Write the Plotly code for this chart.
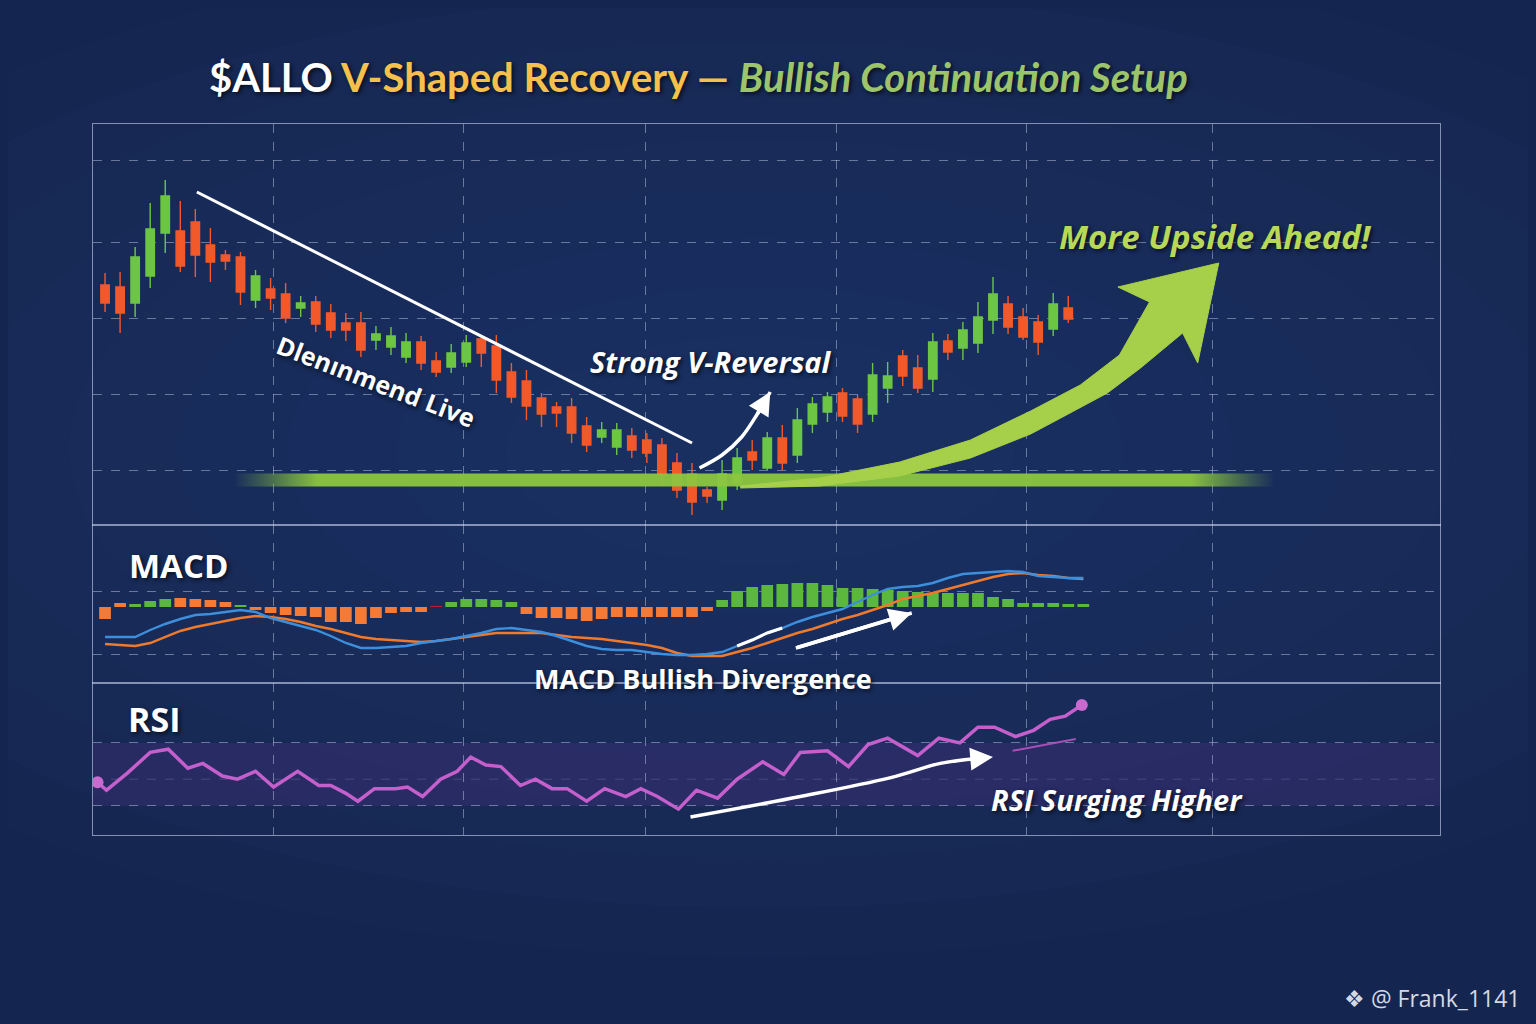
import plotly.graph_objects as go
from plotly.subplots import make_subplots

# ---- price candles (one per session) ----
opens = [3.15, 3.13, 2.97, 3.24, 3.67, 3.69, 3.78, 3.55, 3.45, 3.43,
         3.00, 3.11, 3.06, 2.92, 2.98, 2.87, 2.77, 2.77, 2.60, 2.53,
         2.43, 2.58, 2.39, 2.33, 2.38, 2.61, 2.54, 2.28, 2.19, 2.02,
         1.93, 1.93, 1.74, 1.63, 1.53, 1.64, 1.60, 1.55, 1.37, 1.26,
         1.10, 1.00, 1.17, 1.48, 1.32, 1.62, 1.45, 1.76, 1.88, 2.07,
         2.01, 1.86, 2.12, 2.44, 2.32, 2.21, 2.59, 2.52, 2.57, 2.80,
         2.96, 2.83, 2.78, 2.71, 2.92]
highs = [3.27, 3.28, 3.53, 3.97, 4.20, 3.99, 3.91, 3.72, 3.50, 3.48,
         3.30, 3.22, 3.17, 3.04, 3.04, 2.96, 2.87, 2.88, 2.74, 2.73,
         2.67, 2.64, 2.48, 2.56, 2.65, 2.63, 2.65, 2.37, 2.30, 2.07,
         1.98, 2.02, 1.83, 1.78, 1.77, 1.72, 1.67, 1.62, 1.47, 1.37,
         1.13, 1.40, 1.52, 1.60, 1.68, 1.75, 1.92, 2.03, 2.08, 2.12,
         2.05, 2.37, 2.38, 2.50, 2.45, 2.67, 2.66, 2.78, 2.98, 3.23,
         3.04, 2.92, 2.85, 3.07, 3.04]
lows = [2.88, 2.67, 2.83, 3.12, 3.47, 3.28, 3.23, 3.18, 3.30, 2.95,
        2.92, 2.90, 2.77, 2.83, 2.68, 2.62, 2.59, 2.43, 2.50, 2.45,
        2.37, 2.30, 2.23, 2.27, 2.33, 2.33, 2.07, 1.97, 1.80, 1.73,
        1.73, 1.57, 1.48, 1.57, 1.45, 1.42, 1.37, 1.15, 1.02, 0.85,
        0.97, 0.90, 1.10, 1.30, 1.30, 1.30, 1.37, 1.67, 1.78, 1.78,
        1.67, 1.78, 1.97, 2.14, 2.07, 2.08, 2.40, 2.40, 2.47, 2.66,
        2.66, 2.60, 2.45, 2.64, 2.77]
closes = [2.97, 2.87, 3.43, 3.71, 4.04, 3.34, 3.45, 3.38, 3.39, 3.08,
          3.24, 3.02, 2.82, 2.97, 2.76, 2.70, 2.70, 2.50, 2.66, 2.64,
          2.58, 2.37, 2.28, 2.47, 2.57, 2.47, 2.20, 2.03, 1.94, 1.86,
          1.87, 1.67, 1.55, 1.70, 1.70, 1.50, 1.47, 1.25, 1.10, 0.98,
          1.04, 1.26, 1.42, 1.40, 1.62, 1.37, 1.80, 1.96, 2.03, 1.84,
          1.76, 2.25, 2.24, 2.24, 2.12, 2.58, 2.48, 2.70, 2.83, 3.06,
          2.73, 2.63, 2.58, 2.96, 2.81]
sessions = list(range(len(opens)))

# ---- MACD panel (66 bars) ----
macd_hist = [-0.12, 0.04, 0.03, 0.06, 0.08, 0.09, 0.08, 0.07, 0.05, 0.02,
             -0.03, -0.06, -0.08, -0.09, -0.10, -0.15, -0.15, -0.17, -0.11, -0.06,
             -0.05, -0.05, 0.01, 0.05, 0.08, 0.08, 0.07, 0.05, -0.07, -0.11,
             -0.11, -0.12, -0.14, -0.12, -0.10, -0.10, -0.10, -0.10, -0.10, -0.10,
             -0.04, 0.07, 0.16, 0.20, 0.22, 0.23, 0.24, 0.24, 0.22, 0.19,
             0.19, 0.18, 0.17, 0.16, 0.15, 0.14, 0.14, 0.14, 0.14, 0.10,
             0.08, 0.04, 0.04, 0.04, 0.03, 0.03]
hist_tone = list("OOGGGOOOOG" + "OOOOOOOOOOOO" + "RGGGGG" + "OOOOOOOOOOOOO" + "G" * 25)
macd_line = [-0.30, -0.30, -0.30, -0.23, -0.17, -0.12, -0.08, -0.07, -0.05, -0.03,
             -0.05, -0.11, -0.15, -0.19, -0.23, -0.29, -0.36, -0.41, -0.41, -0.40,
             -0.39, -0.36, -0.34, -0.32, -0.29, -0.26, -0.22, -0.21, -0.23, -0.25,
             -0.29, -0.34, -0.39, -0.42, -0.43, -0.43, -0.45, -0.47, -0.48, -0.48,
             -0.47, -0.45, -0.39, -0.33, -0.26, -0.21, -0.15, -0.10, -0.06, -0.02,
             0.05, 0.12, 0.18, 0.20, 0.21, 0.24, 0.29, 0.33, 0.34, 0.35,
             0.36, 0.35, 0.31, 0.30, 0.29, 0.29]
signal_line = [-0.37, -0.38, -0.39, -0.36, -0.30, -0.24, -0.20, -0.17, -0.14, -0.11,
               -0.09, -0.10, -0.12, -0.15, -0.19, -0.22, -0.26, -0.30, -0.32, -0.33,
               -0.34, -0.35, -0.34, -0.32, -0.30, -0.28, -0.26, -0.26, -0.26, -0.26,
               -0.28, -0.30, -0.31, -0.32, -0.34, -0.36, -0.38, -0.41, -0.46, -0.49,
               -0.49, -0.49, -0.45, -0.41, -0.36, -0.31, -0.26, -0.22, -0.17, -0.12,
               -0.08, -0.03, 0.02, 0.08, 0.11, 0.14, 0.18, 0.22, 0.26, 0.30,
               0.33, 0.34, 0.32, 0.31, 0.29, 0.28]
macd_x = list(range(len(macd_hist)))

# ---- RSI panel (zigzag vertices) ----
rsi_x = [-0.5, 0.1, 1.5, 3.0, 4.2, 5.5, 6.5, 7.8, 8.8, 10.0,
         11.2, 12.8, 14.2, 15.0, 16.0, 16.8, 17.9, 19.3, 20.1, 21.1,
         22.3, 23.4, 24.3, 25.3, 26.3, 27.6, 28.6, 29.7, 30.7, 32.0,
         33.2, 34.6, 35.6, 36.7, 38.1, 39.3, 40.7, 42.0, 43.7, 45.1,
         46.2, 48.0, 49.4, 50.7, 52.0, 54.0, 55.4, 56.8, 58.0, 59.1,
         60.5, 61.7, 62.8, 63.8, 64.9]
rsi_y = [45, 40, 51, 64, 66, 54, 57, 49, 47, 52,
         42, 52, 43, 43, 38, 33, 41, 41, 42, 36,
         47, 52, 61, 56, 55, 43, 47, 41, 41, 33,
         41, 36, 41, 36, 28, 40, 35, 47, 58, 50,
         64, 65, 55, 69, 73, 62, 73, 70, 80, 80,
         74, 78, 85, 87, 94]

# drawn overlays (chart units)
downtrend_x = [6.1, 39.0]
downtrend_y = [4.08, 1.57]
support_level = 1.20
support_x = [8.6, 77.7]
reversal_x = [39.5, 41.0, 42.3, 43.3, 44.2]
reversal_y = [1.32, 1.45, 1.63, 1.85, 2.08]
upside_x = [42.2, 47.5, 52.8, 57.5, 61.5, 64.8, 67.4, 69.4, 67.3, 74.0, 72.6, 71.6,
            68.8, 66.6, 63.5, 61.5, 57.5, 52.8, 47.5, 42.2]
upside_y = [1.14, 1.22, 1.38, 1.60, 1.89, 2.15, 2.45, 2.98, 3.13, 3.37, 2.37, 2.67,
            2.32, 2.07, 1.82, 1.66, 1.42, 1.24, 1.14, 1.12]
macd_arrow_x = [45.9, 53.6]
macd_arrow_y = [-0.41, -0.06]
rsi_arrow_x = [38.9, 46.2, 52.2, 55.5, 57.8, 59.0]
rsi_arrow_y = [23, 36, 48, 57, 60, 61]
rsi_trend_x = [60.3, 64.5]
rsi_trend_y = [65, 72.5]

RED = "#f2592a"
GREEN = "#6cc644"
BAND = "140,198,63"
BG = "#14264f"
tone_map = {"O": "#f47a36", "G": "#5cb83c", "R": "#b8203a"}

# the page puts the figure 8px in from the top-left corner
OFF = 8
W, H = 1536 - OFF, 1024 - OFF
L, R, T, B = 93, 1440, 124, 835   # plot area in screen pixels


def px(x):
    return (x - L) / (R - L)


def py(y):
    return (B - y) / (B - T)


fig = make_subplots(rows=3, cols=1, shared_xaxes=True, vertical_spacing=0,
                    row_heights=[401, 158, 152])

# support band with faded ends
fig.add_trace(go.Scatter(
    x=[support_x[0], support_x[1], support_x[1], support_x[0], support_x[0]],
    y=[support_level - 0.065, support_level - 0.065, support_level + 0.065,
       support_level + 0.065, support_level - 0.065],
    mode="lines", line=dict(width=0), fill="toself",
    fillgradient=dict(type="horizontal", colorscale=[
        [0, f"rgba({BAND},0)"], [0.08, f"rgba({BAND},0.95)"],
        [0.92, f"rgba({BAND},0.95)"], [1, f"rgba({BAND},0)"]]),
    hoverinfo="skip", showlegend=False), row=1, col=1)

fig.add_trace(go.Candlestick(
    x=sessions, open=opens, high=highs, low=lows, close=closes,
    increasing=dict(line=dict(color=GREEN, width=1.4), fillcolor=GREEN),
    decreasing=dict(line=dict(color=RED, width=1.4), fillcolor=RED),
    whiskerwidth=0, showlegend=False), row=1, col=1)

fig.add_trace(go.Scatter(x=downtrend_x, y=downtrend_y, mode="lines",
                         line=dict(color="white", width=3), showlegend=False),
              row=1, col=1)
fig.add_trace(go.Scatter(x=reversal_x, y=reversal_y, mode="lines",
                         line=dict(color="white", width=3.5, shape="spline"),
                         showlegend=False), row=1, col=1)
fig.add_trace(go.Scatter(x=upside_x, y=upside_y, mode="lines", fill="toself",
                         fillcolor="#a6cf4a", line=dict(color="#a6cf4a", width=1),
                         showlegend=False), row=1, col=1)

# MACD
fig.add_trace(go.Bar(x=macd_x, y=macd_hist, width=0.78,
                     marker=dict(color=[tone_map[t] for t in hist_tone], line=dict(width=0)),
                     showlegend=False), row=2, col=1)
fig.add_trace(go.Scatter(x=macd_x, y=signal_line, mode="lines",
                         line=dict(color="#f07a2c", width=2.4), showlegend=False),
              row=2, col=1)
fig.add_trace(go.Scatter(x=macd_x, y=macd_line, mode="lines",
                         line=dict(color="#3d8fdc", width=2.4), showlegend=False),
              row=2, col=1)
fig.add_trace(go.Scatter(x=macd_x[42:46], y=macd_line[42:46], mode="lines",
                         line=dict(color="white", width=3), showlegend=False),
              row=2, col=1)
fig.add_trace(go.Scatter(x=macd_arrow_x, y=macd_arrow_y, mode="lines",
                         line=dict(color="white", width=3.5), showlegend=False),
              row=2, col=1)

# RSI
fig.add_trace(go.Scatter(x=rsi_trend_x, y=rsi_trend_y, mode="lines",
                         line=dict(color="rgba(200,90,205,0.8)", width=2),
                         showlegend=False), row=3, col=1)
fig.add_trace(go.Scatter(x=rsi_x, y=rsi_y, mode="lines",
                         line=dict(color="#c45fcb", width=3.5), showlegend=False),
              row=3, col=1)
fig.add_trace(go.Scatter(x=[rsi_x[0], rsi_x[-1]], y=[rsi_y[0], rsi_y[-1]], mode="markers",
                         marker=dict(color="#c96ad0", size=12), showlegend=False),
              row=3, col=1)
fig.add_trace(go.Scatter(x=rsi_arrow_x[:-1], y=rsi_arrow_y[:-1], mode="lines",
                         line=dict(color="white", width=3.5, shape="spline"),
                         showlegend=False), row=3, col=1)

grid = "rgba(205,215,240,0.45)"
frame = "rgba(205,215,240,0.6)"
xticks = [11.2, 23.8, 35.9, 48.6, 61.2, 73.6]
for r in (1, 2, 3):
    fig.update_xaxes(range=[-0.8, 88.7], tickvals=xticks, showticklabels=False,
                     showgrid=True, gridcolor=grid, griddash="dash", gridwidth=1,
                     showline=True, linecolor=frame, mirror=True, zeroline=False,
                     rangeslider_visible=False, row=r, col=1)
fig.update_yaxes(range=[0.75, 4.76], tickvals=[1.30, 2.06, 2.82, 3.58, 4.40], row=1, col=1)
fig.update_yaxes(range=[-0.76, 0.82], tickvals=[-0.47, 0.16], row=2, col=1)
fig.update_yaxes(range=[11.6, 108], tickvals=[30, 70], row=3, col=1)
fig.update_yaxes(showticklabels=False, showgrid=True, gridcolor=grid, griddash="dash",
                 gridwidth=1, showline=True, linecolor=frame, mirror=True, zeroline=False)

# soft vignette + RSI band
shapes = []
for k in range(9):
    grow = 0.62 - k * 0.06
    shapes.append(dict(type="circle", xref="paper", yref="paper", layer="below",
                       x0=px(760) - grow * 1.35, x1=px(760) + grow * 1.35,
                       y0=py(450) - grow * 1.15, y1=py(450) + grow * 1.15,
                       fillcolor="rgba(45,78,140,0.045)", line=dict(width=0)))
shapes.append(dict(type="rect", xref="x3 domain", yref="y3", layer="below",
                   x0=0, x1=1, y0=30, y1=70, fillcolor="rgba(110,55,160,0.2)",
                   line=dict(width=0)))
shapes.append(dict(type="line", xref="x3 domain", yref="y3", layer="below",
                   x0=0, x1=1, y0=47, y1=47,
                   line=dict(color="rgba(205,215,240,0.18)", width=1, dash="dash")))

shadow = "2px 2px 4px rgba(0,0,0,0.65)"


def label(x, y, text, size, color="white", italic=False, angle=0, family="Open Sans"):
    return dict(x=px(x), y=py(y), xref="paper", yref="paper", text=text,
                showarrow=False, textangle=angle, xanchor="center", yanchor="middle",
                font=dict(family=family, size=size, color=color, weight="bold",
                          style="italic" if italic else "normal", shadow=shadow))


annotations = [
    dict(x=px(698), y=py(77), xref="paper", yref="paper", showarrow=False,
         xanchor="center", yanchor="middle",
         text="$ALLO <span style='color:#f5c04c'>V-Shaped Recovery —</span> "
              "<span style='color:#9cc46a'><i>Bullish Continuation Setup</i></span>",
         font=dict(family="Lato", size=40, color="white",
                   weight="bold", shadow=shadow)),
    label(376, 381, "Dlenınmend Live", 25, angle=21),
    label(711, 361, "Strong V-Reversal", 29, italic=True),
    label(1215, 236, "More Upside Ahead!", 33, color="#b8d957", italic=True),
    label(178, 565, "MACD", 33),
    label(703, 678, "MACD Bullish Divergence", 27),
    label(154, 719, "RSI", 34),
    label(1117, 799, "RSI Surging Higher", 29, italic=True),
    dict(x=px(1432), y=py(998), xref="paper", yref="paper", showarrow=False,
         xanchor="center", yanchor="middle", text="❖ @ Frank_1141",
         font=dict(family="Open Sans", size=23, color="#d3d9e4")),
    # arrow heads
    dict(x=reversal_x[-1], y=reversal_y[-1], ax=reversal_x[-2], ay=reversal_y[-2],
         xref="x", yref="y", axref="x", ayref="y", text="", showarrow=True,
         arrowhead=2, arrowsize=1.3, arrowwidth=3.5, arrowcolor="white"),
    dict(x=macd_arrow_x[-1], y=macd_arrow_y[-1], ax=macd_arrow_x[0], ay=macd_arrow_y[0],
         xref="x2", yref="y2", axref="x2", ayref="y2", text="", showarrow=True,
         arrowhead=2, arrowsize=1.3, arrowwidth=3.5, arrowcolor="white"),
    dict(x=rsi_arrow_x[-1], y=rsi_arrow_y[-1], ax=rsi_arrow_x[-2], ay=rsi_arrow_y[-2],
         xref="x3", yref="y3", axref="x3", ayref="y3", text="", showarrow=True,
         arrowhead=2, arrowsize=1.3, arrowwidth=3.5, arrowcolor="white"),
]

fig.update_layout(
    width=W, height=H,
    margin=dict(l=L - OFF, r=W - (R - OFF), t=T - OFF, b=H - (B - OFF)),
    paper_bgcolor=BG,
    plot_bgcolor="rgba(0,0,0,0)",
    boxgap=0.2,
    bargap=0.2,
    showlegend=False,
    shapes=shapes,
    annotations=annotations,
)

# paint the page margin in the same navy so no white strip shows
fig.write_html("out.html", post_script=f"document.body.style.background='{BG}';")
